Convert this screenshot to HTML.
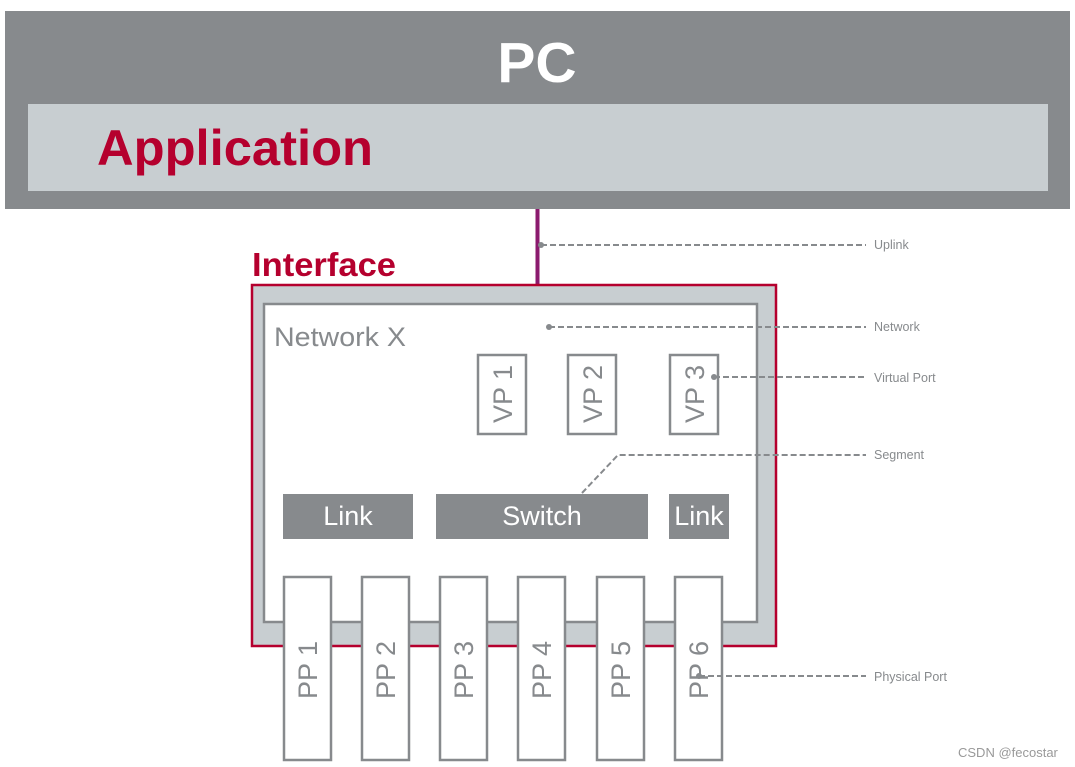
<!DOCTYPE html>
<html><head><meta charset="utf-8"><style>
html,body{margin:0;padding:0;background:#fff;width:1075px;height:767px;overflow:hidden}
svg{display:block;font-family:"Liberation Sans",Arial,sans-serif}
</style></head><body>
<svg width="1075" height="767" viewBox="0 0 1075 767" xmlns="http://www.w3.org/2000/svg">
<rect x="5" y="11" width="1065" height="198" fill="#878a8d"/>
<rect x="28" y="104" width="1020" height="87" fill="#c8ced1"/>
<text x="537" y="82" font-size="57" font-weight="bold" fill="#fff" text-anchor="middle">PC</text>
<text x="97" y="165" font-size="50" font-weight="bold" fill="#b5002e" textLength="276" lengthAdjust="spacingAndGlyphs">Application</text>
<line x1="537.5" y1="209" x2="537.5" y2="285" stroke="#8b1a6e" stroke-width="4"/>
<text x="252" y="276" font-size="33" font-weight="bold" fill="#b5002e" textLength="144" lengthAdjust="spacingAndGlyphs">Interface</text>
<rect x="252" y="285" width="524" height="361" fill="#c8ced1" stroke="#b5002e" stroke-width="2.5"/>
<rect x="264" y="304" width="493" height="318" fill="#fff" stroke="#878a8d" stroke-width="2.5"/>
<text x="274" y="346" font-size="27" fill="#878a8d" textLength="132" lengthAdjust="spacingAndGlyphs">Network X</text>
<g fill="#fff" stroke="#878a8d" stroke-width="2.5">
<rect x="478" y="355" width="48" height="79"/>
<rect x="568" y="355" width="48" height="79"/>
<rect x="670" y="355" width="48" height="79"/>
</g>
<g font-size="27" fill="#878a8d">
<text transform="translate(512,394) rotate(-90)" text-anchor="middle">VP 1</text>
<text transform="translate(602,394) rotate(-90)" text-anchor="middle">VP 2</text>
<text transform="translate(704,394) rotate(-90)" text-anchor="middle">VP 3</text>
</g>
<g fill="#878a8d">
<rect x="283" y="494" width="130" height="45"/>
<rect x="436" y="494" width="212" height="45"/>
<rect x="669" y="494" width="60" height="45"/>
</g>
<g font-size="27" fill="#fff" text-anchor="middle">
<text x="348" y="525">Link</text>
<text x="542" y="525">Switch</text>
<text x="699" y="525">Link</text>
</g>
<g fill="#fff" stroke="#878a8d" stroke-width="2.5">
<rect x="284" y="577" width="47" height="183"/>
<rect x="362" y="577" width="47" height="183"/>
<rect x="440" y="577" width="47" height="183"/>
<rect x="518" y="577" width="47" height="183"/>
<rect x="597" y="577" width="47" height="183"/>
<rect x="675" y="577" width="47" height="183"/>
</g>
<g font-size="27" fill="#878a8d" text-anchor="middle">
<text transform="translate(317,670) rotate(-90)">PP 1</text>
<text transform="translate(395,670) rotate(-90)">PP 2</text>
<text transform="translate(473,670) rotate(-90)">PP 3</text>
<text transform="translate(551,670) rotate(-90)">PP 4</text>
<text transform="translate(630,670) rotate(-90)">PP 5</text>
<text transform="translate(708,670) rotate(-90)">PP 6</text>
</g>
<g stroke="#878a8d" stroke-width="2" stroke-dasharray="6,3" fill="none">
<line x1="541" y1="245" x2="866" y2="245"/>
<line x1="549" y1="327" x2="866" y2="327"/>
<line x1="714" y1="377" x2="866" y2="377"/>
<polyline points="582,493 618,455 866,455"/>
<line x1="699" y1="676" x2="866" y2="676"/>
</g>
<g fill="#878a8d">
<circle cx="541" cy="245" r="3"/>
<circle cx="549" cy="327" r="3"/>
<circle cx="714" cy="377" r="3"/>
<circle cx="699" cy="676" r="3"/>
</g>
<g font-size="12.5" fill="#878a8d">
<text x="874" y="249">Uplink</text>
<text x="874" y="331">Network</text>
<text x="874" y="382">Virtual Port</text>
<text x="874" y="459">Segment</text>
<text x="874" y="681">Physical Port</text>
</g>
<text x="958" y="757" font-size="13" fill="#999">CSDN @fecostar</text>
</svg>
</body></html>
